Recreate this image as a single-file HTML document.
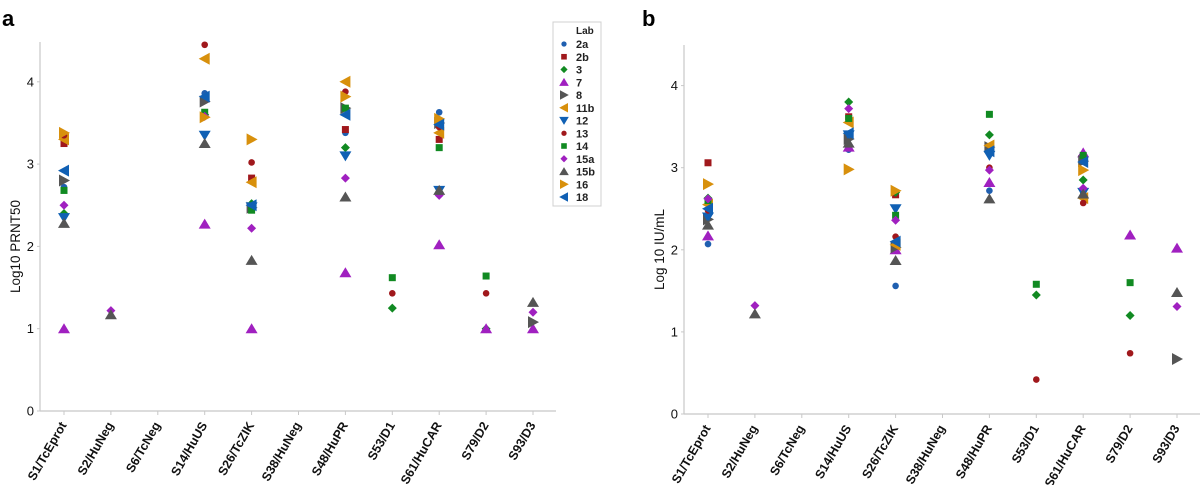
<!DOCTYPE html>
<html><head><meta charset="utf-8"><style>
body{margin:0;background:#fff;width:1200px;height:485px;overflow:hidden;font-family:"Liberation Sans",Arial,sans-serif}
svg text{font-family:"Liberation Sans",Arial,sans-serif}
</style></head><body>
<svg id="chart" width="1200" height="485" xmlns="http://www.w3.org/2000/svg"></svg>
<script>
const categories=["S1/TcEprot","S2/HuNeg","S6/TcNeg","S14/HuUS","S26/TcZIK","S38/HuNeg","S48/HuPR","S53/D1","S61/HuCAR","S79/D2","S93/D3"];
const labs=["2a","2b","3","7","8","11b","12","13","14","15a","15b","16","18"];
const yTicks=[0,1,2,3,4];
const N=null;
// panel a: Log10 PRNT50 per lab across categories
const a_2a =[2.72,N,N,3.86,N,N,3.38,N,3.63,N,N];
const a_2b =[3.25,N,N,N,2.83,N,3.42,N,3.3,N,N];
const a_3  =[2.4,N,N,3.6,2.52,N,3.2,1.25,2.65,1.0,N];
const a_7  =[1.0,N,N,2.27,1.0,N,1.68,N,2.02,1.0,1.0];
const a_8  =[2.8,N,N,3.76,2.47,N,3.68,N,3.5,N,1.08];
const a_11b=[3.3,N,N,4.28,2.78,N,4.0,N,3.38,N,N];
const a_12 =[2.35,N,N,3.35,2.48,N,3.1,N,2.68,N,N];
const a_13 =[3.35,N,N,4.45,3.02,N,3.88,1.43,3.45,1.43,N];
const a_14 =[2.68,N,N,3.63,2.44,N,3.68,1.62,3.2,1.64,N];
const a_15a=[2.5,1.22,N,3.58,2.22,N,2.83,N,2.62,N,1.2];
const a_15b=[2.28,1.17,N,3.25,1.83,N,2.6,N,2.68,N,1.32];
const a_16 =[3.38,N,N,3.57,3.3,N,3.82,N,3.55,N,N];
const a_18 =[2.92,N,N,3.82,2.5,N,3.6,N,3.48,N,N];
// panel b: Log 10 IU/mL
const b_2a =[2.07,N,N,3.22,1.56,N,2.72,N,2.7,N,N];
const b_2b =[3.06,N,N,3.62,2.67,N,N,N,N,N,N];
const b_3  =[2.63,N,N,3.8,2.7,N,3.4,1.45,2.85,1.2,N];
const b_7  =[2.17,N,N,3.25,2.0,N,2.82,N,3.18,2.18,2.02];
const b_8  =[2.37,N,N,3.35,2.03,N,3.25,N,3.08,N,0.67];
const b_11b=[2.55,N,N,3.55,2.06,N,3.27,N,2.63,N,N];
const b_12 =[2.4,N,N,3.4,2.5,N,3.15,N,2.7,N,N];
const b_13 =[2.48,N,N,N,2.16,N,3.0,0.42,2.57,0.74,N];
const b_14 =[2.6,N,N,3.6,2.42,N,3.65,1.58,3.15,1.6,N];
const b_15a=[2.62,1.32,N,3.72,2.36,N,2.97,N,2.75,N,1.31];
const b_15b=[2.3,1.22,N,3.3,1.87,N,2.62,N,2.68,N,1.48];
const b_16 =[2.8,N,N,2.98,2.72,N,N,N,2.97,N,N];
const b_18 =[2.5,N,N,3.42,2.1,N,3.2,N,3.07,N,N];

const panelA=[a_2a,a_2b,a_3,a_7,a_8,a_11b,a_12,a_13,a_14,a_15a,a_15b,a_16,a_18];
const panelB=[b_2a,b_2b,b_3,b_7,b_8,b_11b,b_12,b_13,b_14,b_15a,b_15b,b_16,b_18];
const colors=["#1f5fb0","#a0181c","#118a22","#a020c0","#555555","#d8900c","#1060b4","#a0181c","#118a22","#a020c0","#555555","#d8900c","#1060b4"];
const shapes=["circle","square","diamond","up","right","left","down","circle","square","diamond","up","right","left"];

const svg=document.getElementById('chart');
const NS="http://www.w3.org/2000/svg";
function mk(tag,attrs,parent){const e=document.createElementNS(NS,tag);for(const k in attrs)e.setAttribute(k,attrs[k]);(parent||svg).appendChild(e);return e;}
function marker(shape,cx,cy,col,parent){
  let e;
  if(shape==="circle")e=mk('circle',{cx,cy,r:3.3,fill:col},parent);
  else if(shape==="square")e=mk('rect',{x:cx-3.5,y:cy-3.5,width:7,height:7,fill:col},parent);
  else{
    let p;
    if(shape==="diamond")p=[[0,-4.5],[4.5,0],[0,4.5],[-4.5,0]];
    else if(shape==="up")p=[[0,-5.5],[6,4.5],[-6,4.5]];
    else if(shape==="down")p=[[0,5.5],[6,-4.5],[-6,-4.5]];
    else if(shape==="right")p=[[6,0],[-5,-6],[-5,6]];
    else p=[[-6,0],[5,-6],[5,6]];
    e=mk('polygon',{points:p.map(q=>(cx+q[0])+','+(cy+q[1])).join(' '),fill:col},parent);
  }
  return e;
}
function panel(cfg){
  const g=mk('g',{});
  
  
  const xS=i=>cfg.x0+i*cfg.dx;
  const yS=v=>cfg.y0-v*cfg.unit;
  const t=mk('text',{x:cfg.lx,y:26,'font-size':22,'font-weight':'bold',fill:'#000'},g);t.textContent=cfg.letter;
  
  const ya=mk('line',{x1:cfg.ax,y1:cfg.top,x2:cfg.ax,y2:cfg.y0,stroke:'#c8c8c8','stroke-width':1.2},g);
  
  const xa=mk('line',{x1:cfg.ax,y1:cfg.y0,x2:cfg.xend,y2:cfg.y0,stroke:'#c8c8c8','stroke-width':1.2},g);
  
  yTicks.forEach(v=>{
    mk('line',{x1:cfg.ax-3,y1:yS(v),x2:cfg.ax,y2:yS(v),stroke:'#c8c8c8'},g);
    const tl=mk('text',{x:cfg.ax-6,y:yS(v)+4.5,'font-size':13,'text-anchor':'end',fill:'#111'},g);tl.textContent=v;
    
  });
  const yt=mk('text',{x:0,y:0,'font-size':13.5,'text-anchor':'middle',fill:'#111',transform:`translate(${cfg.ytx},${(cfg.top+cfg.y0)/2+20}) rotate(-90)`},g);
  yt.textContent=cfg.ytitle;
  categories.forEach((c,i)=>{
    const x=xS(i);
    mk('line',{x1:x,y1:cfg.y0,x2:x,y2:cfg.y0+4,stroke:'#c8c8c8'},g);
    const l=mk('text',{x:0,y:0,'font-size':12.5,'font-weight':'bold','text-anchor':'end',fill:'#111',transform:`translate(${x+3},${cfg.y0+14}) rotate(-60)`},g);
    l.textContent=c;
  });
  cfg.data.forEach((arr,li)=>{
    arr.forEach((v,i)=>{
      if(v===null)return;
      const m=marker(shapes[li],xS(i),yS(v),colors[li],g);
      
      
    });
  });
}
panel({name:'panel-a',letter:'a',lx:2,ax:40,top:42,y0:411,unit:82.3,x0:64,dx:46.9,xend:556,ytx:20,ytitle:'Log10 PRNT50',data:panelA});
panel({name:'panel-b',letter:'b',lx:642,ax:684,top:45,y0:414,unit:82.1,x0:708,dx:46.9,xend:1200,ytx:664,ytitle:'Log 10 IU/mL',data:panelB});
// legend
const lg=mk('g',{});


mk('rect',{x:553,y:22,width:48,height:184,fill:'#fff',stroke:'#d0d0d0'},lg);
const lt=mk('text',{x:576,y:34,'font-size':10,'font-weight':'bold',fill:'#222'},lg);lt.textContent='Lab';
labs.forEach((lab,i)=>{
  const y=44+i*12.75;
  const e=mk('g',{},lg);
  
  
  const m=marker(shapes[i],564,y,colors[i],e);
  m.setAttribute('transform',`translate(${564*0.2},${y*0.2}) scale(0.8)`);
  const tx=mk('text',{x:576,y:y+4,'font-size':11,'font-weight':'bold',fill:'#222'},e);tx.textContent=lab;
});
</script>
</body></html>
